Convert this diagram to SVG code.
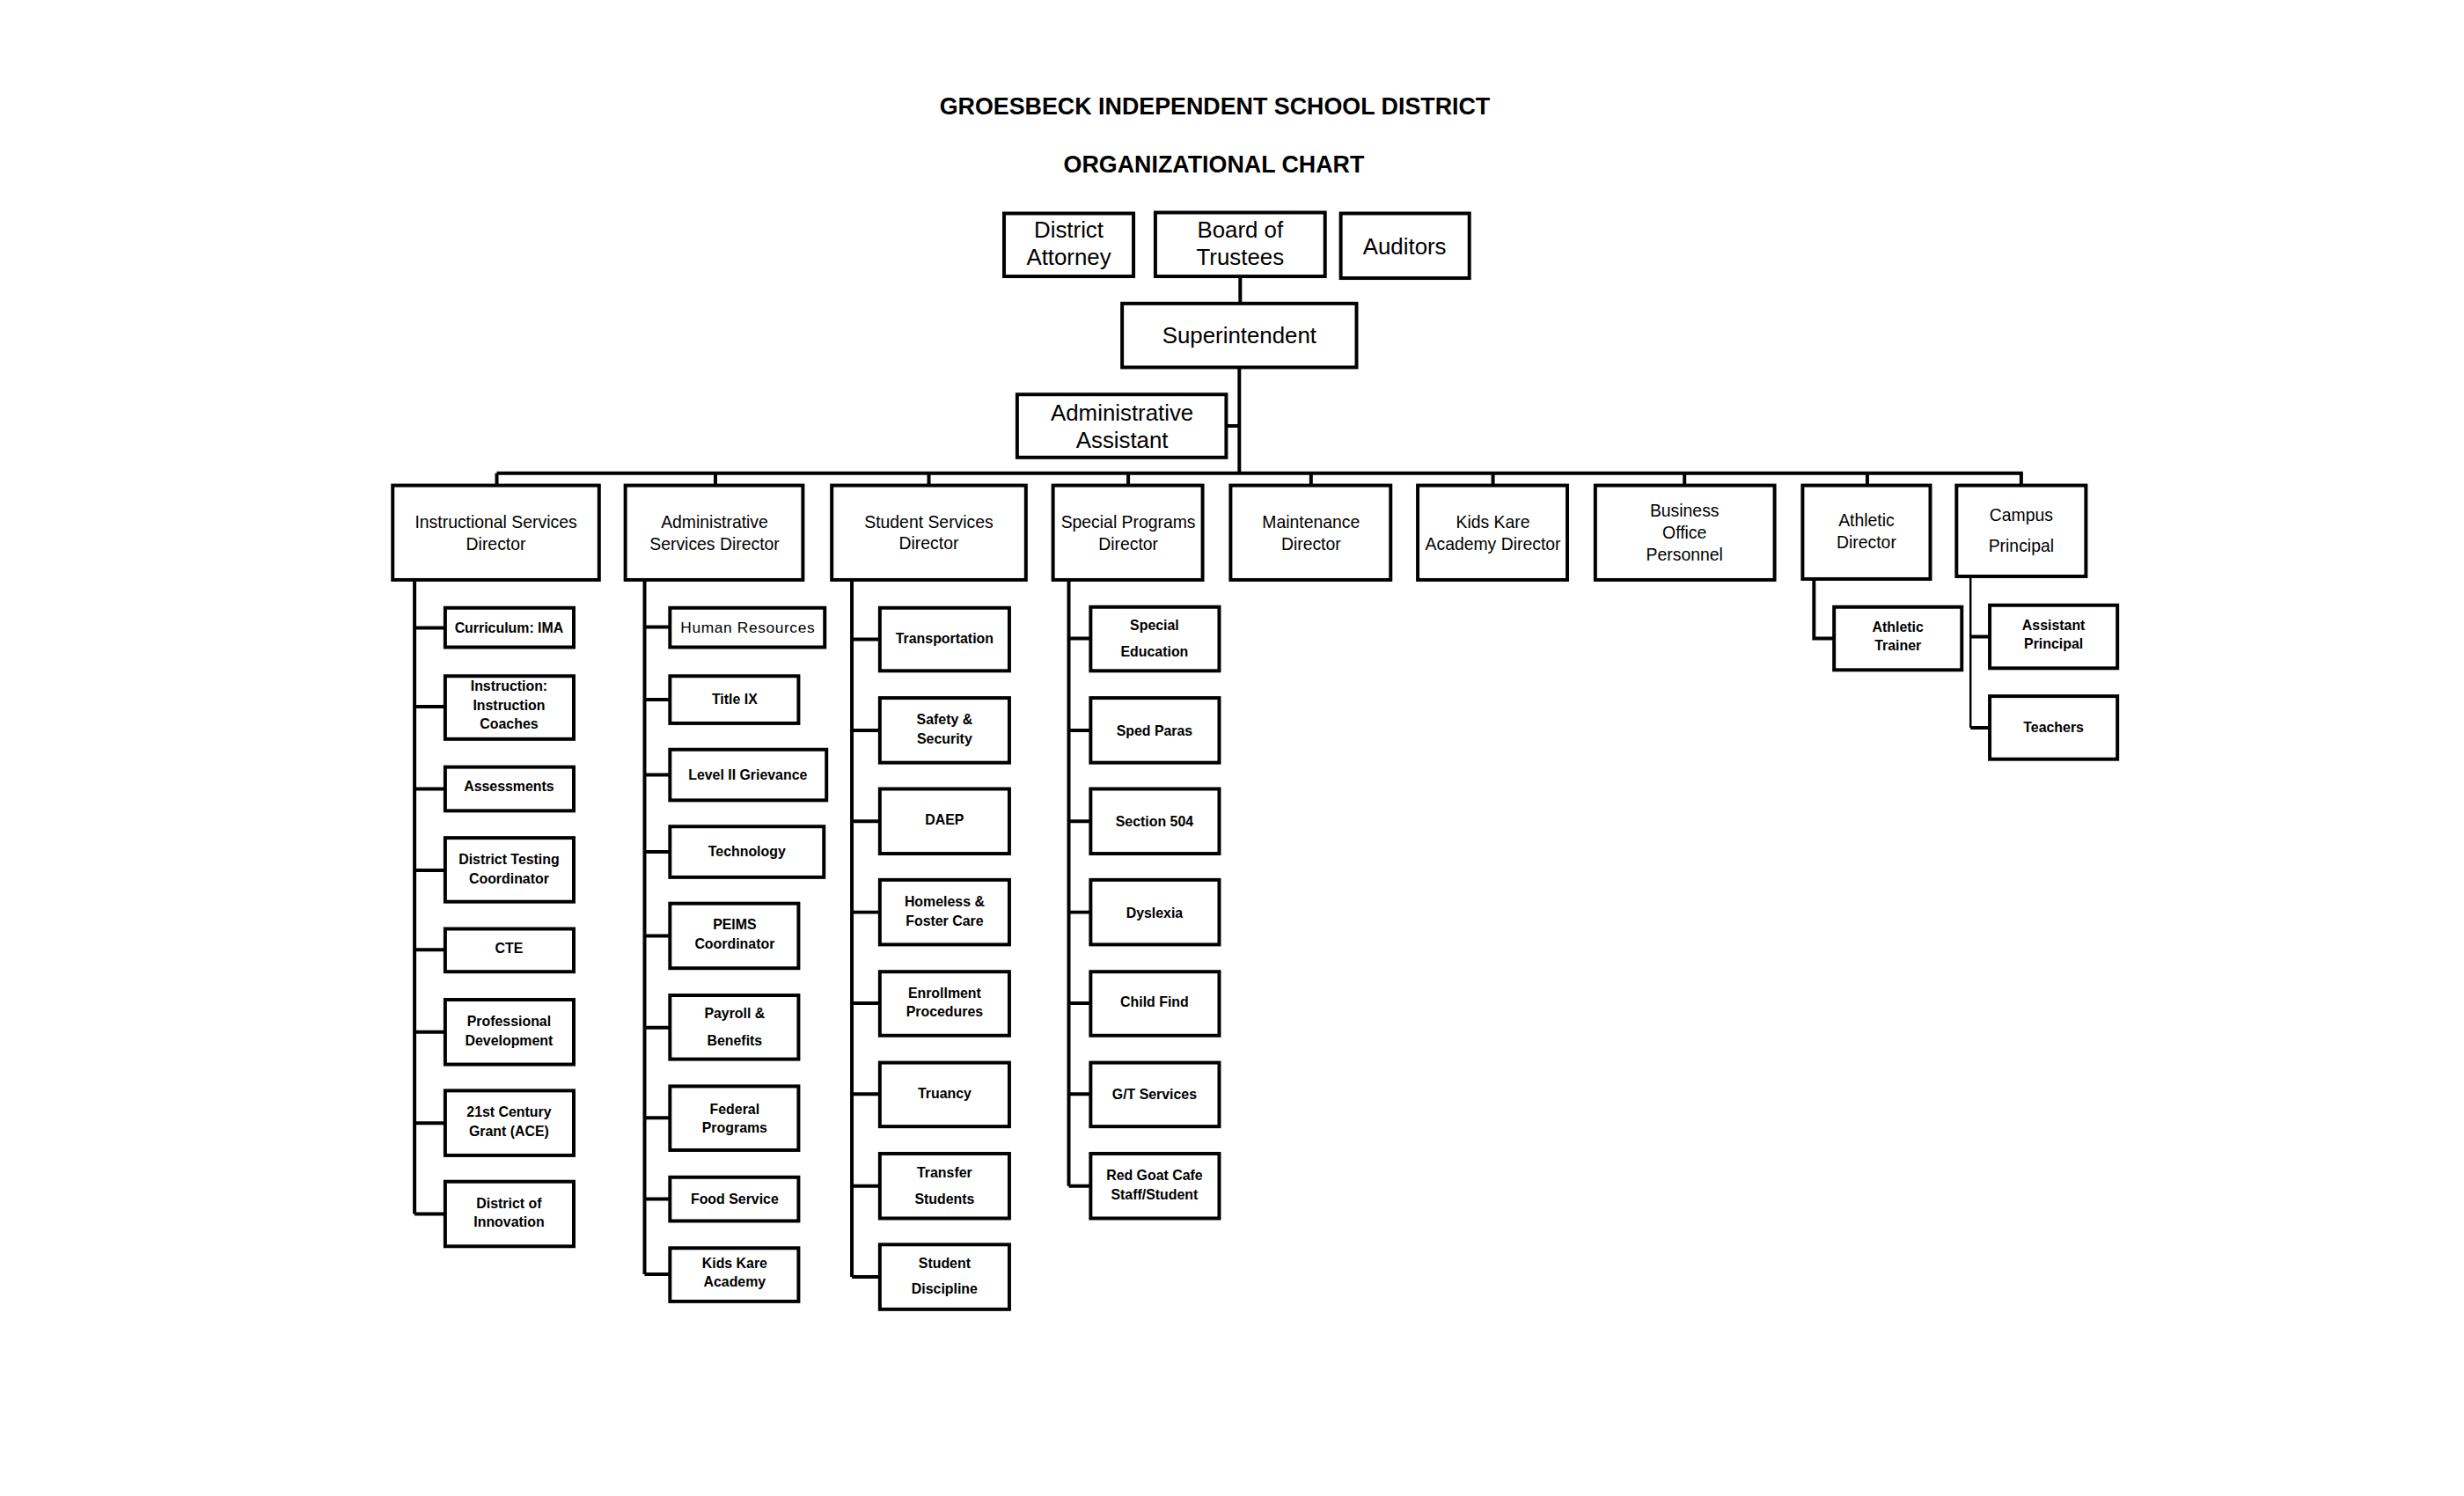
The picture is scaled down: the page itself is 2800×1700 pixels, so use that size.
<svg xmlns="http://www.w3.org/2000/svg" width="2800" height="1700" viewBox="0 0 2800 1700">
<style>
.bx{fill:#fff;stroke:#000;stroke-width:4}
.ln{fill:none;stroke:#000;stroke-width:4}
.thin{fill:none;stroke:#000;stroke-width:2.5}
text{font-family:"Liberation Sans",Arial,sans-serif;fill:#000;text-anchor:middle}
.ttl{font-size:27px;font-weight:bold}
.top{font-size:26px}
.dir{font-size:19.5px}
.sub{font-size:16px;font-weight:bold}
.reg{font-size:17.5px;letter-spacing:0.6px}
</style>
<rect width="2800" height="1700" fill="#fff"/>
<g transform="scale(0.99388)">
<g id="title">
<text class="ttl" x="1389" y="131">GROESBECK INDEPENDENT SCHOOL DISTRICT</text>
<text class="ttl" x="1388" y="197">ORGANIZATIONAL CHART</text>
</g>
<g id="connectors">
<path class="ln" d="M1418 316V347M1417 420V541M1402 487H1417M568 541H2313"/>
<path class="ln" d="M568 541V555M818 541V555M1062 541V555M1290 541V555M1499 541V555M1707 541V555M1926 541V555M2135 541V555M2311 541V555"/>
<path class="ln" d="M474 663V1388M474 718H509M474 808H509M474 902H509M474 995H509M474 1086H509M474 1180H509M474 1284H509M474 1388H509"/>
<path class="ln" d="M737 663V1457M737 717H766M737 800H766M737 886H766M737 974H766M737 1070H766M737 1175H766M737 1278H766M737 1371H766M737 1457H766"/>
<path class="ln" d="M974 663V1460M974 731H1006M974 835H1006M974 939H1006M974 1043H1006M974 1147H1006M974 1251H1006M974 1356H1006M974 1460H1006"/>
<path class="ln" d="M1222 663V1356M1222 730H1247M1222 835H1247M1222 939H1247M1222 1043H1247M1222 1147H1247M1222 1251H1247M1222 1356H1247"/>
<path class="ln" d="M2074 662V730H2097"/>
<path class="thin" d="M2253 659V832"/>
<path class="ln" d="M2253 728H2275M2253 832H2275"/>
</g>
<g id="district-attorney"><rect class="bx" x="1148" y="244" width="148" height="72"/><text class="top" x="1222" y="272">District</text><text class="top" x="1222" y="303">Attorney</text></g>
<g id="board"><rect class="bx" x="1321" y="243" width="194" height="73"/><text class="top" x="1418" y="272">Board of</text><text class="top" x="1418" y="303">Trustees</text></g>
<g id="auditors"><rect class="bx" x="1533" y="244" width="147" height="74"/><text class="top" x="1606" y="291">Auditors</text></g>
<g id="superintendent"><rect class="bx" x="1283" y="347" width="268" height="73"/><text class="top" x="1417" y="392">Superintendent</text></g>
<g id="admin-assistant"><rect class="bx" x="1163" y="451" width="239" height="72"/><text class="top" x="1283" y="481">Administrative</text><text class="top" x="1283" y="512">Assistant</text></g>

<g id="instructional-director"><rect class="bx" x="449" y="555" width="236" height="108"/><text class="dir" x="567" y="604">Instructional Services</text><text class="dir" x="567" y="629">Director</text></g>
<g id="administrative-director"><rect class="bx" x="715" y="555" width="203" height="108"/><text class="dir" x="817" y="604">Administrative</text><text class="dir" x="817" y="629">Services Director</text></g>
<g id="student-director"><rect class="bx" x="951" y="555" width="222" height="108"/><text class="dir" x="1062" y="604">Student Services</text><text class="dir" x="1062" y="628">Director</text></g>
<g id="special-director"><rect class="bx" x="1204" y="555" width="171" height="108"/><text class="dir" x="1290" y="604">Special Programs</text><text class="dir" x="1290" y="629">Director</text></g>
<g id="maintenance-director"><rect class="bx" x="1407" y="555" width="183" height="108"/><text class="dir" x="1499" y="604">Maintenance</text><text class="dir" x="1499" y="629">Director</text></g>
<g id="kidskare-director"><rect class="bx" x="1621" y="555" width="171" height="108"/><text class="dir" x="1707" y="604">Kids Kare</text><text class="dir" x="1707" y="629">Academy Director</text></g>
<g id="business-office"><rect class="bx" x="1824" y="555" width="205" height="108"/><text class="dir" x="1926" y="591">Business</text><text class="dir" x="1926" y="616">Office</text><text class="dir" x="1926" y="641">Personnel</text></g>
<g id="athletic-director"><rect class="bx" x="2061" y="555" width="146" height="107"/><text class="dir" x="2134" y="602">Athletic</text><text class="dir" x="2134" y="627">Director</text></g>
<g id="campus-principal"><rect class="bx" x="2237" y="555" width="148" height="104"/><text class="dir" x="2311" y="596">Campus</text><text class="dir" x="2311" y="631">Principal</text></g>

<g id="curriculum"><rect class="bx" x="509" y="695" width="147" height="45"/><text class="sub" x="582" y="723">Curriculum: IMA</text></g>
<g id="instruction"><rect class="bx" x="509" y="773" width="147" height="72"/><text class="sub" x="582" y="790">Instruction:</text><text class="sub" x="582" y="812">Instruction</text><text class="sub" x="582" y="833">Coaches</text></g>
<g id="assessments"><rect class="bx" x="509" y="877" width="147" height="50"/><text class="sub" x="582" y="905">Assessments</text></g>
<g id="testing"><rect class="bx" x="509" y="958" width="147" height="73"/><text class="sub" x="582" y="988">District Testing</text><text class="sub" x="582" y="1010">Coordinator</text></g>
<g id="cte"><rect class="bx" x="509" y="1062" width="147" height="49"/><text class="sub" x="582" y="1090">CTE</text></g>
<g id="prof-dev"><rect class="bx" x="509" y="1143" width="147" height="74"/><text class="sub" x="582" y="1173">Professional</text><text class="sub" x="582" y="1195">Development</text></g>
<g id="century"><rect class="bx" x="509" y="1247" width="147" height="74"/><text class="sub" x="582" y="1277">21st Century</text><text class="sub" x="582" y="1299">Grant (ACE)</text></g>
<g id="innovation"><rect class="bx" x="509" y="1351" width="147" height="74"/><text class="sub" x="582" y="1381">District of</text><text class="sub" x="582" y="1403">Innovation</text></g>

<g id="hr"><rect class="bx" x="766" y="695" width="177" height="45"/><text class="reg" x="855" y="723">Human Resources</text></g>
<g id="title-ix"><rect class="bx" x="766" y="773" width="147" height="54"/><text class="sub" x="840" y="805">Title IX</text></g>
<g id="grievance"><rect class="bx" x="766" y="857" width="179" height="58"/><text class="sub" x="855" y="891">Level II Grievance</text></g>
<g id="technology"><rect class="bx" x="766" y="945" width="176" height="58"/><text class="sub" x="854" y="979">Technology</text></g>
<g id="peims"><rect class="bx" x="766" y="1033" width="147" height="74"/><text class="sub" x="840" y="1063">PEIMS</text><text class="sub" x="840" y="1085">Coordinator</text></g>
<g id="payroll"><rect class="bx" x="766" y="1138" width="147" height="73"/><text class="sub" x="840" y="1164">Payroll &amp;</text><text class="sub" x="840" y="1195">Benefits</text></g>
<g id="federal"><rect class="bx" x="766" y="1242" width="147" height="73"/><text class="sub" x="840" y="1274">Federal</text><text class="sub" x="840" y="1295">Programs</text></g>
<g id="food"><rect class="bx" x="766" y="1346" width="147" height="50"/><text class="sub" x="840" y="1376">Food Service</text></g>
<g id="kk-academy"><rect class="bx" x="766" y="1427" width="147" height="61"/><text class="sub" x="840" y="1450">Kids Kare</text><text class="sub" x="840" y="1471">Academy</text></g>

<g id="transportation"><rect class="bx" x="1006" y="695" width="148" height="72"/><text class="sub" x="1080" y="736">Transportation</text></g>
<g id="safety"><rect class="bx" x="1006" y="798" width="148" height="74"/><text class="sub" x="1080" y="828">Safety &amp;</text><text class="sub" x="1080" y="850">Security</text></g>
<g id="daep"><rect class="bx" x="1006" y="902" width="148" height="74"/><text class="sub" x="1080" y="943">DAEP</text></g>
<g id="homeless"><rect class="bx" x="1006" y="1006" width="148" height="74"/><text class="sub" x="1080" y="1036">Homeless &amp;</text><text class="sub" x="1080" y="1058">Foster Care</text></g>
<g id="enrollment"><rect class="bx" x="1006" y="1111" width="148" height="73"/><text class="sub" x="1080" y="1141">Enrollment</text><text class="sub" x="1080" y="1162">Procedures</text></g>
<g id="truancy"><rect class="bx" x="1006" y="1215" width="148" height="73"/><text class="sub" x="1080" y="1256">Truancy</text></g>
<g id="transfer"><rect class="bx" x="1006" y="1319" width="148" height="74"/><text class="sub" x="1080" y="1346">Transfer</text><text class="sub" x="1080" y="1376">Students</text></g>
<g id="discipline"><rect class="bx" x="1006" y="1423" width="148" height="74"/><text class="sub" x="1080" y="1450">Student</text><text class="sub" x="1080" y="1479">Discipline</text></g>

<g id="sped"><rect class="bx" x="1247" y="694" width="147" height="73"/><text class="sub" x="1320" y="720">Special</text><text class="sub" x="1320" y="751">Education</text></g>
<g id="sped-paras"><rect class="bx" x="1247" y="798" width="147" height="74"/><text class="sub" x="1320" y="841">Sped Paras</text></g>
<g id="section504"><rect class="bx" x="1247" y="902" width="147" height="74"/><text class="sub" x="1320" y="945">Section 504</text></g>
<g id="dyslexia"><rect class="bx" x="1247" y="1006" width="147" height="74"/><text class="sub" x="1320" y="1049">Dyslexia</text></g>
<g id="child-find"><rect class="bx" x="1247" y="1111" width="147" height="73"/><text class="sub" x="1320" y="1151">Child Find</text></g>
<g id="gt"><rect class="bx" x="1247" y="1215" width="147" height="73"/><text class="sub" x="1320" y="1257">G/T Services</text></g>
<g id="red-goat"><rect class="bx" x="1247" y="1319" width="147" height="74"/><text class="sub" x="1320" y="1349">Red Goat Cafe</text><text class="sub" x="1320" y="1371">Staff/Student</text></g>

<g id="athletic-trainer"><rect class="bx" x="2097" y="694" width="146" height="72"/><text class="sub" x="2170" y="722">Athletic</text><text class="sub" x="2170" y="744">Trainer</text></g>
<g id="assistant-principal"><rect class="bx" x="2275" y="692" width="146" height="72"/><text class="sub" x="2348" y="720">Assistant</text><text class="sub" x="2348" y="742">Principal</text></g>
<g id="teachers"><rect class="bx" x="2275" y="796" width="146" height="72"/><text class="sub" x="2348" y="837">Teachers</text></g>
</g>
</svg>
